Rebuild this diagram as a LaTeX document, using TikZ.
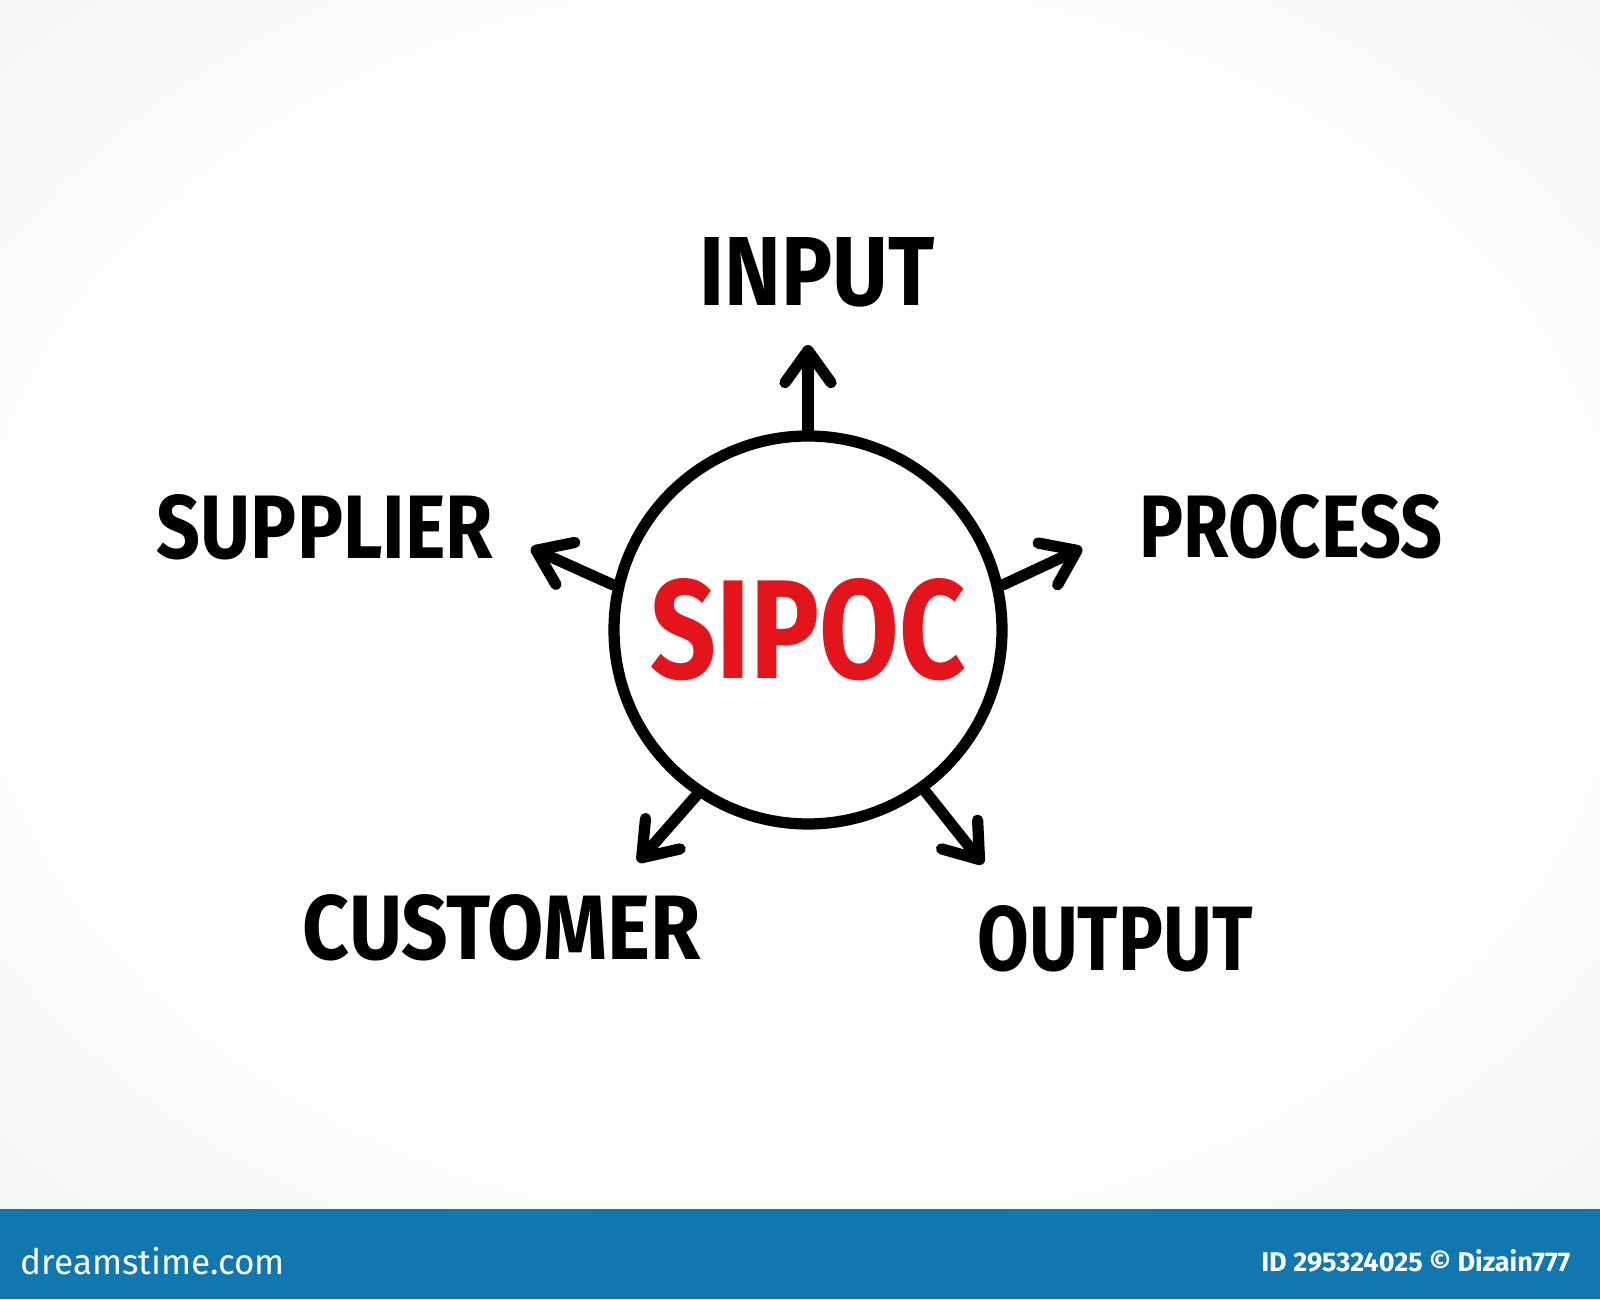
\documentclass[tikz,border=0pt]{standalone}
\usepackage{fontspec}
\setmainfont{Fira Sans}
\usepackage{graphicx}
\usetikzlibrary{arrows.meta}
\definecolor{sipocred}{HTML}{E3141B}
\definecolor{barblue}{HTML}{1177AF}
\pgfdeclareradialshading{paper}{\pgfpoint{0cm}{0cm}}{color(0bp)=(white); color(22bp)=(white); color(72bp)=(black!13)}
\tikzstyle{ring} = [circle,draw,line width=3.2pt,minimum size=3.88cm,inner sep=0pt]
\tikzstyle{word} = [inner sep=0pt,text=black]
\tikzstyle{pointer} = [line width=3.2pt,line cap=round,-{Straight Barb[length=3.2mm,width=4.6mm,round]}]
\newcommand{\hand}[3]{\resizebox{#1}{#2}{\bfseries #3}}

\begin{document}
\begin{tikzpicture}
\useasboundingbox (0,0) rectangle (16,12.99);
\shade[shading=paper] (0,0.9) rectangle (16,12.99);
\fill[barblue] (0,0) rectangle (16,0.9);

\node [ring,text=sipocred](sipoc) at (8.08,6.69){\hand{3.15cm}{1.0cm}{SIPOC}};

\node [word](input) at (8.17,10.27){\hand{2.35cm}{0.68cm}{INPUT}};
\node [word](supplier) at (3.25,7.72){\hand{3.36cm}{0.64cm}{SUPPLIER}};
\node [word](process) at (12.91,7.72){\hand{3.03cm}{0.63cm}{PROCESS}};
\node [word](customer) at (5.02,3.71){\hand{3.98cm}{0.65cm}{CUSTOMER}};
\node [word](output) at (11.15,3.60){\hand{2.75cm}{0.65cm}{OUTPUT}};

\coordinate (tin) at (8.08,9.54);
\coordinate (tsup) at (5.31,7.51);
\coordinate (tpro) at (10.82,7.51);
\coordinate (tcus) at (6.38,4.37);
\coordinate (tout) at (9.83,4.35);

\draw[pointer](sipoc.90)--(tin);
\draw[pointer](sipoc.167)--(tsup);
\draw[pointer](sipoc.13)--(tpro);
\draw[pointer](sipoc.236)--(tcus);
\draw[pointer](sipoc.306)--(tout);

\node [word,text=white,anchor=west](site) at (0.20,0.38){\resizebox{2.64cm}{!}{dreamstime.com}};
\node [word,text=white,anchor=east](credit) at (15.71,0.38){\resizebox{3.09cm}{!}{\bfseries ID 295324025 © Dizain777}};
\end{tikzpicture}
\end{document}
